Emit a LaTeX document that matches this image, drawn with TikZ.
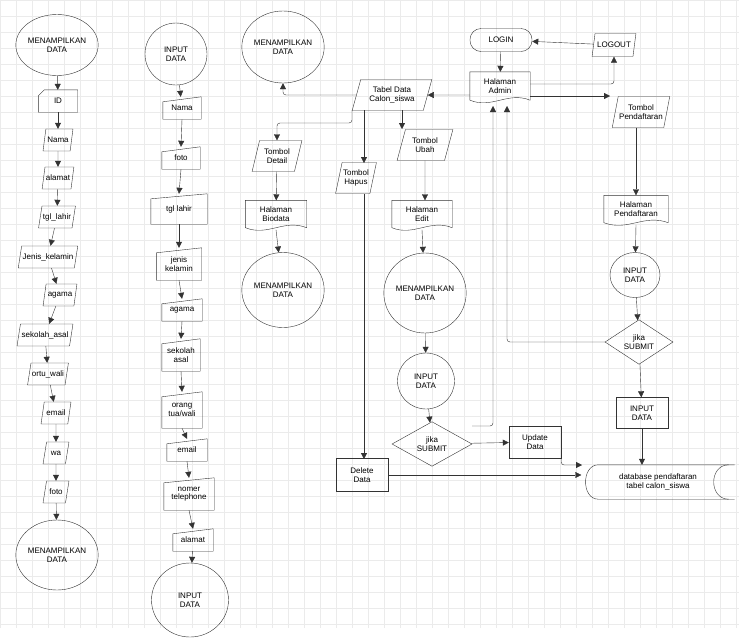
\documentclass[tikz,border=0pt]{standalone}
\usepackage{fontspec}
\setmainfont{Liberation Sans}
\usetikzlibrary{shapes.geometric,arrows.meta,calc}

\newcommand\docshape[1]{\draw[-] (#1.south west) -- (#1.north west) -- (#1.north east) -- (#1.south east)
    .. controls ($(#1.south)+(8,-9)$) and ($(#1.south)+(-8,9)$) .. (#1.south west);}
\newcommand\manshape[1]{\draw[-] (#1.south west) -- ($(#1.north west)+(0,5)$) -- (#1.north east) -- (#1.south east) -- cycle;}

\begin{document}
\begin{tikzpicture}[x=1pt,y=-1pt,>={Triangle[length=6pt,width=6pt]},font=\fontsize{8}{8.5}\selectfont,draw=black!80]
    \tikzstyle{circ}=[ellipse,draw,align=center,inner sep=0pt]
    \tikzstyle{para}=[trapezium,draw,trapezium left angle=70,trapezium right angle=110,trapezium stretches=true,align=center,inner sep=1pt]
    \tikzstyle{box}=[rectangle,draw,align=center,inner sep=1pt]
    \tikzstyle{blank}=[rectangle,align=center,inner sep=1pt]
    \tikzstyle{decide}=[diamond,draw,align=center,inner sep=0pt]
    \tikzstyle{line}=[->,draw=black!80,rounded corners=3pt]

    \useasboundingbox (0,0) rectangle (739,641);
    % Background grid
    \foreach \x in {0,16,...,736} \draw[black!8] (\x,0) -- (\x,628);
    \foreach \y in {0,16,...,624} \draw[black!8] (0,\y) -- (739,\y);

    % Draw the first column
    \node[circ,minimum width=71,minimum height=61] (M1) at (57,45) {MENAMPILKAN\\DATA};
    \node[blank,minimum width=39,minimum height=22] (ID) at (58,101) {ID};
    \draw ($(ID.north west)+(6,0)$) -- (ID.north east) -- (ID.south east) -- (ID.south west) -- ($(ID.north west)+(0,6)$) -- cycle;
    \node[para,minimum width=30,minimum height=22] (C1-1) at (58,140) {Nama};
    \node[para,minimum width=30,minimum height=22] (C1-2) at (58,178) {alamat};
    \node[para,minimum width=36,minimum height=22] (C1-3) at (57,217) {tgl\_lahir};
    \node[para,minimum width=58,minimum height=22] (C1-4) at (48,257) {Jenis\_kelamin};
    \node[para,minimum width=34,minimum height=22] (C1-5) at (60,295) {agama};
    \node[para,minimum width=56,minimum height=22] (C1-6) at (45,335) {sekolah\_asal};
    \node[para,minimum width=40,minimum height=22] (C1-7) at (48,374) {ortu\_wali};
    \node[para,minimum width=30,minimum height=22] (C1-8) at (56,413) {email};
    \node[para,minimum width=26,minimum height=22] (C1-9) at (56,453) {wa};
    \node[para,minimum width=26,minimum height=22] (C1-10) at (56,492) {foto};
    \node[circ,minimum width=80,minimum height=70] (M2) at (57,555) {MENAMPILKAN\\DATA};
    \draw[line] (M1) -- (ID);
    \draw[line] (ID) -- (C1-1);
    \foreach \a/\b in {1/2,2/3,3/4,4/5,5/6,6/7,7/8,8/9,9/10}
        \draw[line] (C1-\a) -- (C1-\b);
    \draw[line] (C1-10) -- (M2);

    % Draw the second column
    \node[circ,minimum width=62,minimum height=62] (I1) at (176,54) {INPUT\\DATA};
    \foreach \name/\x/\y/\w/\h/\txt in {1/182/108/38/22/Nama, 2/181/158/38/22/foto, 3/179/209/56/30/tgl lahir,
        4/179/264/45/32/jenis\\kelamin, 5/182/310/40/22/agama, 6/181/355/38/32/sekolah\\asal,
        7/182/410/40/36/{orang\\tua/wali}, 8/187/450/40/22/email, 9/189/494/50/32/nomer\\telephone, 10/193/540/40/22/alamat}
    {
        \node[blank,minimum width=\w,minimum height=\h] (C2-\name) at (\x,\y) {\txt};
        \manshape{C2-\name}
    }
    \node[circ,minimum width=77,minimum height=74] (I2) at (190,600) {INPUT\\DATA};
    \draw[line] (I1) -- (C2-1);
    \foreach \a/\b in {1/2,2/3,3/4,4/5,5/6,6/7,7/8,8/9,9/10}
        \draw[line] (C2-\a.south) -- (C2-\b.north);
    \draw[line] (C2-10) -- (I2);

    % Admin part
    \node[box,rounded corners=11pt,minimum width=62,minimum height=23] (login) at (501,40) {LOGIN};
    \node[circ,minimum width=74,minimum height=72] (M3) at (283,47) {MENAMPILKAN\\DATA};
    \node[para,minimum width=44,minimum height=23] (logout) at (614,45) {LOGOUT};
    \node[blank,minimum width=60,minimum height=28] (admin) at (500,86) {Halaman\\Admin};
    \docshape{admin}
    \node[para,minimum width=80,minimum height=31] (tabel) at (392,95) {Tabel Data\\Calon\_siswa};
    \node[para,minimum width=52,minimum height=31] (pendaftaran) at (641,112) {Tombol\\Pendaftaran};
    \node[para,minimum width=50,minimum height=31] (detail) at (277,156) {Tombol\\Detail};
    \node[para,minimum width=40,minimum height=31] (hapus) at (356,178) {Tombol\\Hapus};
    \node[para,minimum width=56,minimum height=31] (ubah) at (425,145) {Tombol\\Ubah};
    \node[blank,minimum width=61,minimum height=27] (biodata) at (276,214) {Halaman\\Biodata};
    \docshape{biodata}
    \node[blank,minimum width=60,minimum height=27] (edit) at (422,214) {Halaman\\Edit};
    \docshape{edit}
    \node[blank,minimum width=64,minimum height=27] (hpendaftaran) at (636,209) {Halaman\\Pendaftaran};
    \docshape{hpendaftaran}
    \node[circ,minimum width=74,minimum height=75] (M4) at (283,290) {MENAMPILKAN\\DATA};
    \node[circ,minimum width=79,minimum height=80] (M5) at (425,293) {MENAMPILKAN\\DATA};
    \node[circ,minimum width=50,minimum height=45] (I3) at (635,275) {INPUT\\DATA};
    \node[circ,minimum width=57,minimum height=56] (I4) at (426,381) {INPUT\\DATA};
    \node[decide,minimum width=80,minimum height=36] (submit1) at (432,444) {jika\\SUBMIT};
    \node[decide,minimum width=68,minimum height=44] (submit2) at (639,342) {jika\\SUBMIT};
    \node[box,minimum width=52,minimum height=32] (update) at (535,442) {Update\\Data};
    \node[box,minimum width=52,minimum height=33] (delete) at (362,475) {Delete\\Data};
    \node[box,minimum width=52,minimum height=31] (input) at (642,413) {INPUT\\DATA};
    \node[blank,minimum width=153,minimum height=34] (db) at (658,482) {database pendaftaran\\tabel calon\_siswa};
    \draw (db.north east) -- ($(db.north west)+(17,0)$) .. controls (db.north west) and (db.south west) .. ($(db.south west)+(17,0)$) -- (db.south east);
    \draw ($(db.north east)+(-6,0)$) .. controls ($(db.north east)+(-26,0)$) and ($(db.south east)+(-26,0)$) .. ($(db.south east)+(-6,0)$);

    % Connect the admin part
    \coordinate (c-out) at (530,84);
    \coordinate (c-tp) at (610,96);
    \coordinate (c-d) at (352,110);
    \coordinate (c-up1) at (472,426);
    \draw[line] (login) -- (admin);
    \draw[line] (logout) -- (login);
    \draw[line] (c-out) -| (logout.south);
    \draw[line] (c-out |- c-tp) -- (c-tp);
    \draw[line] (admin.west |- tabel) -- (tabel);
    \draw[line] (tabel.west) -| (M3);
    \draw[line] (c-d) |- (277,123) -- (detail);
    \draw[line] (364,110) -- (364,163);
    \draw[line] (364,194) -- (364,459);
    \draw[line] (402,110) -- (402,129);
    \draw[line] (detail) -- (biodata);
    \draw[line] (biodata.south) ++(0,2) -- (M4);
    \draw[line] (ubah) -- (edit.north -| ubah);
    \draw[line] (edit.south) ++(0,2) -- (M5);
    \draw[line] (M5) -- (I4);
    \draw[line] (I4) -- (submit1);
    \draw[line] (submit1) -- (update);
    \draw[line] (c-up1) -| (493,106);
    \draw[line] (submit2) -| (507,106);
    \draw[line] (pendaftaran.south -| hpendaftaran) -- (hpendaftaran);
    \draw[line] (hpendaftaran.south) ++(0,2) -- (I3);
    \draw[line] (I3) -- (submit2);
    \draw[line] (submit2) -- (input);
    \draw[line] (input) -- (input |- db.north);
    \draw[line] (update.south east) |- (582,465);
    \draw[line] (delete) -- (delete -| db.west);
\end{tikzpicture}
\end{document}
